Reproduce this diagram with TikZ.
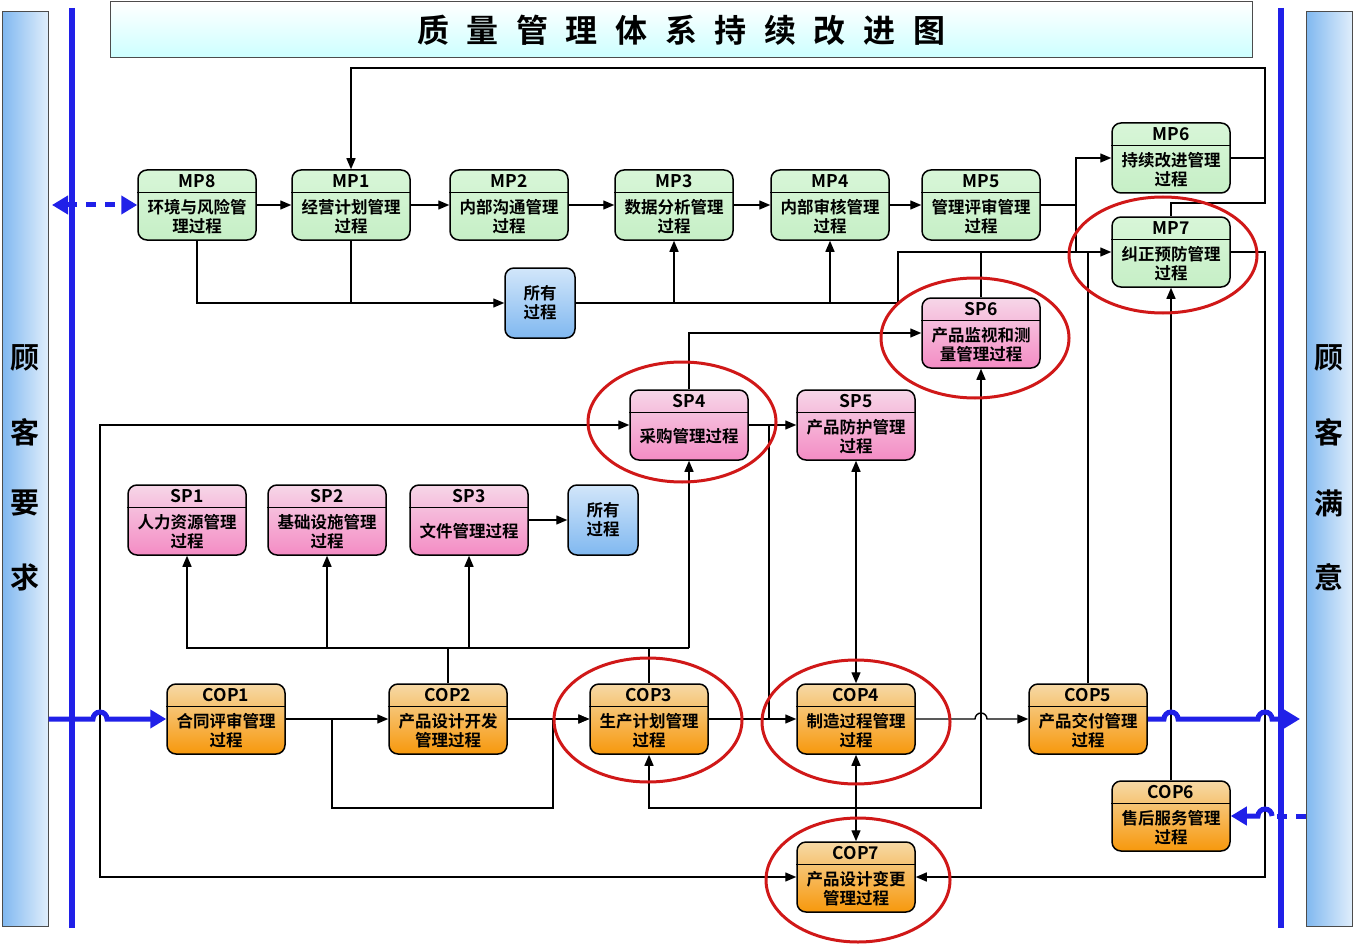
\documentclass[tikz,border=0pt]{standalone}
\usepackage{fontspec}
\setmainfont{Noto Sans CJK SC Bold}
\usetikzlibrary{arrows.meta}
\definecolor{gA}{HTML}{D8F6D8}\definecolor{gB}{HTML}{C6EFC6}
\definecolor{pA}{HTML}{F6D6E8}\definecolor{pB}{HTML}{F48CC4}
\definecolor{oA}{HTML}{F6D9A6}\definecolor{oB}{HTML}{F7980C}
\definecolor{bA}{HTML}{D2E6FA}\definecolor{bB}{HTML}{80B8F0}
\definecolor{ribl}{HTML}{2020E8}\definecolor{elr}{HTML}{D01818}
\tikzset{
 pb/.style={draw=black,line width=1.5pt,rounded corners=9pt,minimum width=118pt,minimum height=70pt,inner sep=0pt},
 gr/.style={top color=gA,bottom color=gB},
 pk/.style={top color=pA,bottom color=pB},
 og/.style={top color=oA,bottom color=oB},
 bl/.style={top color=bA,bottom color=bB},
 allbox/.style={draw=black,line width=1.5pt,rounded corners=9pt,minimum width=70pt,minimum height=70pt,bl,font=\fontsize{16.5}{19}\selectfont,align=center},
 ln/.style={line width=1.4pt,black},
 ar/.style={ln,-{Triangle[length=11pt,width=9pt]}},
 dar/.style={ln,{Triangle[length=11pt,width=9pt]}-{Triangle[length=11pt,width=9pt]}},
 bline/.style={line width=5pt,ribl},
 redel/.style={draw=elr,line width=3pt},
 sidebar/.style={draw=black!70,line width=1pt,left color=bB,right color=bA!70}
}
\newcommand\pbox[6]{%
 \node[pb,#6] (#1) at (#2,#3) {};
 \draw[line width=1.4pt] ([yshift=-23pt]#1.north west) -- ([yshift=-23pt]#1.north east);
 \node[font=\fontsize{17.5}{19}\selectfont] at ([yshift=-12pt]#1.north) {#4};
 \node[font=\fontsize{16.5}{19.5}\selectfont,align=center] at ([yshift=-11.5pt]#1.center) {#5};
}
\begin{document}
\begin{tikzpicture}[x=1pt,y=-1pt]
\useasboundingbox (0,0) rectangle (1354,944);
\node[sidebar,minimum width=46pt,minimum height=914pt,inner sep=0pt] (lbar) at (25,469) {};
\node[sidebar,minimum width=46pt,minimum height=914pt,inner sep=0pt] (rbar) at (1329,469) {};
\foreach \t/\y in {顾/358,客/432,要/503,求/577} \node[font=\fontsize{29}{30}\selectfont] at (25,\y) {\t};
\foreach \t/\y in {顾/358,客/432,满/503,意/577} \node[font=\fontsize{29}{30}\selectfont] at (1329,\y) {\t};
\node[draw=black!70,line width=1pt,top color=white,bottom color=cyan!20,minimum width=1142pt,minimum height=56pt,font=\fontsize{32}{34}\selectfont] (title) at (681,30) {质\hspace{0.55em}量\hspace{0.55em}管\hspace{0.55em}理\hspace{0.55em}体\hspace{0.55em}系\hspace{0.55em}持\hspace{0.55em}续\hspace{0.55em}改\hspace{0.55em}进\hspace{0.55em}图};
\coordinate (lt) at (72,8); \coordinate (lb) at (72,928);
\coordinate (rt) at (1281,8); \coordinate (rb) at (1281,928);
\draw[bline,line width=6pt] (lt) -- (lb);
\draw[bline,line width=6pt] (rt) -- (rb);
\pbox{MP8}{197}{205}{MP8}{环境与风险管\\理过程}{gr}
\pbox{MP1}{351}{205}{MP1}{经营计划管理\\过程}{gr}
\pbox{MP2}{509}{205}{MP2}{内部沟通管理\\过程}{gr}
\pbox{MP3}{674}{205}{MP3}{数据分析管理\\过程}{gr}
\pbox{MP4}{830}{205}{MP4}{内部审核管理\\过程}{gr}
\pbox{MP5}{981}{205}{MP5}{管理评审管理\\过程}{gr}
\pbox{MP6}{1171}{158}{MP6}{持续改进管理\\过程}{gr}
\pbox{MP7}{1171}{252}{MP7}{纠正预防管理\\过程}{gr}
\node[allbox] (AP1) at (540,303) {所有\\过程};
\pbox{SP6}{981}{333}{SP6}{产品监视和测\\量管理过程}{pk}
\pbox{SP4}{689}{425}{SP4}{采购管理过程}{pk}
\pbox{SP5}{856}{425}{SP5}{产品防护管理\\过程}{pk}
\pbox{SP1}{187}{520}{SP1}{人力资源管理\\过程}{pk}
\pbox{SP2}{327}{520}{SP2}{基础设施管理\\过程}{pk}
\pbox{SP3}{469}{520}{SP3}{文件管理过程}{pk}
\node[allbox] (AP2) at (603,520) {所有\\过程};
\pbox{COP1}{226}{719}{COP1}{合同评审管理\\过程}{og}
\pbox{COP2}{448}{719}{COP2}{产品设计开发\\管理过程}{og}
\pbox{COP3}{649}{719}{COP3}{生产计划管理\\过程}{og}
\pbox{COP4}{856}{719}{COP4}{制造过程管理\\过程}{og}
\pbox{COP5}{1088}{719}{COP5}{产品交付管理\\过程}{og}
\pbox{COP6}{1171}{816}{COP6}{售后服务管理\\过程}{og}
\pbox{COP7}{856}{877}{COP7}{产品设计变更\\管理过程}{og}
\draw[ar] (MP8) -- (MP1);
\draw[ar] (MP1) -- (MP2);
\draw[ar] (MP2) -- (MP3);
\draw[ar] (MP3) -- (MP4);
\draw[ar] (MP4) -- (MP5);
\draw[ar] (MP5.east) -- (1076,205) -- (1076,158) -- (MP6.west);
\draw[ln] (MP6.east) -- (1265,158);
\draw[ar] (MP7.north) -- (1171,203) -- (1265,203) -- (1265,68) -- (351,68) -- (MP1.north);
\draw[ln] (1076,205) -- (1076,252);
\draw[ar] (MP8.south) -- (197,303) -- (AP1.west);
\draw[ln] (MP1.south) -- (351,303);
\draw[ar] (AP1.east) -- (898,303) -- (898,252) -- (MP7.west);
\draw[ar] (674,303) -- (MP3.south);
\draw[ar] (830,303) -- (MP4.south);
\draw[ln] (SP6.north) -- (981,252);
\draw[ln] (COP5.north) -- (1088,252);
\draw[ar] (MP7.east) -- (1265,252) -- (1265,877) -- (COP7.east);
\draw[ar] (COP6.north) -- (MP7.south);
\draw[ar] (SP4.north) -- (689,333) -- (SP6.west);
\draw[dar] (COP7.west) -- (100,877) -- (100,425) -- (SP4.west);
\draw[ar] (SP4.east) -- (SP5.west);
\draw[ln] (769,425) -- (769,719);
\draw[dar] (SP5.south) -- (COP4.north);
\draw[dar] (COP4.south) -- (COP7.north);
\draw[dar] (COP3.south) -- (649,808) -- (981,808) -- (SP6.south);
\draw[ln] (COP2.north) -- (448,648);
\draw[ln] (COP3.north) -- (649,648);
\draw[ar] (689,648) -- (187,648) -- (SP1.south);
\draw[ar] (327,648) -- (SP2.south);
\draw[ar] (469,648) -- (SP3.south);
\draw[ar] (689,648) -- (SP4.south);
\draw[ar] (SP3) -- (AP2);
\draw[ar] (COP1) -- (COP2);
\draw[ar] (COP2) -- (COP3);
\draw[ar] (332,719) -- (332,808) -- (553,808) -- (553,719) -- (COP3.west);
\draw[ar] (COP3) -- (COP4);
\draw[ar] (COP4.east) -- (975,719) arc[start angle=180,end angle=0,radius=6pt] -- (COP5.west);
\draw[bline,-{Triangle[length=16pt,width=18pt]}] (lbar.east |- COP1) -- (93,719) arc[start angle=180,end angle=0,radius=7pt] -- (COP1.west);
\draw[bline,-{Triangle[length=16pt,width=18pt]}] (COP5.east) -- (1164,719) arc[start angle=180,end angle=0,radius=7pt] -- (1258,719) arc[start angle=180,end angle=0,radius=7pt] -- (1300,719);
\draw[bline,dash pattern=on 10pt off 9pt] (rbar.west |- COP6) -- (1272,816);
\draw[bline,-{Triangle[length=16pt,width=18pt]}] (1272,816) arc[start angle=0,end angle=180,radius=7pt] -- (COP6.east);
\draw[bline,dash pattern=on 10pt off 9pt,{Triangle[length=16pt,width=18pt]}-{Triangle[length=16pt,width=18pt]}] (52,205) -- (MP8.west);
\draw[redel] (682,422) ellipse[x radius=94pt,y radius=60pt];
\draw[redel] (975,338) ellipse[x radius=94pt,y radius=60pt];
\draw[redel] (1163,255) ellipse[x radius=94pt,y radius=58pt];
\draw[redel] (648,720) ellipse[x radius=94pt,y radius=62pt];
\draw[redel] (856,722) ellipse[x radius=94pt,y radius=62pt];
\draw[redel] (858,880) ellipse[x radius=92pt,y radius=62pt];
\end{tikzpicture}
\end{document}
